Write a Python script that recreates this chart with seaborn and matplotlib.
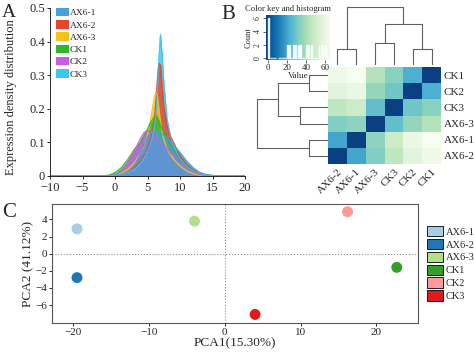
import numpy as np
import pandas as pd
import matplotlib
matplotlib.use("Agg")
import matplotlib.pyplot as plt
from matplotlib.patches import Patch
import seaborn as sns

sns.set_style("ticks")
plt.rcParams['font.family'] = ['Liberation Serif', 'DejaVu Serif']

# ---------------- data ----------------
samples = ["AX6-1", "AX6-2", "AX6-3", "CK1", "CK2", "CK3"]
dens_colors = ["#4a9fd8", "#e8452a", "#f5c318", "#2db82d", "#cc5ae8", "#3cc6f0"]

dens_x = [-10, -3, -2, -1, 0, 1, 2, 3, 4, 4.5, 5, 5.5, 6, 6.25, 6.5, 6.75, 7, 7.25,
          7.5, 8, 8.5, 9, 10, 11, 12, 13, 14, 15, 16, 17, 20]
dens_ax61 = [0, 0, 0, 0, 0.002, 0.005, 0.012, 0.03, 0.07, 0.095, 0.115, 0.128, 0.133, 0.134, 0.133,
             0.131, 0.128, 0.125, 0.121, 0.112, 0.102, 0.092, 0.07, 0.045, 0.025, 0.011, 0.004, 0.001, 0, 0, 0]
dens_ax62 = [0, 0, 0, 0, 0.002, 0.005, 0.012, 0.025, 0.045, 0.06, 0.08, 0.11, 0.16, 0.21, 0.28,
             0.335, 0.33, 0.27, 0.21, 0.15, 0.12, 0.1, 0.06, 0.035, 0.018, 0.008, 0.003, 0.001, 0, 0, 0]
dens_ax63 = [0, 0, 0, 0, 0.003, 0.008, 0.02, 0.04, 0.07, 0.09, 0.12, 0.17, 0.23, 0.25, 0.24,
             0.2, 0.16, 0.13, 0.11, 0.08, 0.065, 0.05, 0.03, 0.015, 0.007, 0.003, 0.001, 0, 0, 0, 0]
dens_ck1 = [0, 0, 0, 0.002, 0.01, 0.025, 0.05, 0.08, 0.1, 0.12, 0.14, 0.16, 0.175, 0.18, 0.175,
            0.165, 0.15, 0.14, 0.13, 0.11, 0.095, 0.08, 0.05, 0.03, 0.015, 0.007, 0.003, 0.001, 0, 0, 0]
dens_ck2 = [0, 0, 0, 0, 0.003, 0.015, 0.04, 0.075, 0.115, 0.13, 0.135, 0.13, 0.12, 0.115, 0.11,
            0.105, 0.1, 0.095, 0.09, 0.08, 0.07, 0.06, 0.04, 0.025, 0.012, 0.005, 0.002, 0, 0, 0, 0]
dens_ck3 = [0, 0, 0, 0, 0.002, 0.005, 0.01, 0.02, 0.04, 0.055, 0.075, 0.1, 0.14, 0.18, 0.25,
            0.34, 0.42, 0.36, 0.28, 0.17, 0.12, 0.09, 0.05, 0.03, 0.015, 0.007, 0.003, 0.001, 0, 0, 0]

# heatmap (leaf order along columns)
leaf_order = ["AX6-2", "AX6-1", "AX6-3", "CK3", "CK2", "CK1"]
dist = [[0, 20, 31, 42, 53, 57],
        [20, 0, 33, 45, 56, 60],
        [31, 33, 0, 26, 34, 40],
        [42, 45, 26, 0, 28, 32],
        [53, 56, 34, 28, 0, 22],
        [57, 60, 40, 32, 22, 0]]
# linkage rows: [cluster a, cluster b, height]; leaves 0-5 in leaf_order
linkage = [[0, 1, 0.27], [2, 3, 0.39], [4, 5, 0.27], [7, 8, 0.71], [6, 9, 1.0]]

# PCA
pca_x = [-19.5, -19.5, -4.0, 22.7, 16.2, 4.0]
pca_y = [2.9, -2.8, 3.8, -1.6, 4.9, -7.1]
pca_colors = ["#a6cee3", "#1f78b4", "#b2df8a", "#33a02c", "#fb9a99", "#e31a1c"]

W, H = 474, 355
fig = plt.figure(figsize=(W / 100, H / 100), dpi=100)

def box(x0, y0, x1, y1):
    return [x0 / W, 1 - y1 / H, (x1 - x0) / W, (y1 - y0) / H]

# ---------------- panel A ----------------
axA = fig.add_axes(box(50, 8, 245, 176))
series = {"AX6-1": dens_ax61, "AX6-2": dens_ax62, "AX6-3": dens_ax63,
          "CK1": dens_ck1, "CK2": dens_ck2, "CK3": dens_ck3}
col = dict(zip(samples, dens_colors))
draw_order = ["CK3", "AX6-2", "AX6-3", "CK1", "CK2", "AX6-1"]
for s in draw_order:
    axA.fill_between(dens_x, series[s], 0, color=col[s], alpha=0.8, lw=0)
for s in draw_order:
    sns.lineplot(x=dens_x, y=series[s], ax=axA, color=col[s], lw=1.0, alpha=0.9)
sns.lineplot(x=dens_x, y=dens_ck3, ax=axA, color="#3cc6f0", lw=0.8, alpha=0.6)
axA.set_xlim(-10, 20)
axA.set_ylim(0, 0.5)
axA.set_xticks([-10, -5, 0, 5, 10, 15, 20])
axA.set_yticks([0, 0.1, 0.2, 0.3, 0.4, 0.5])
axA.set_yticklabels(["0", "0.1", "0.2", "0.3", "0.4", "0.5"])
axA.tick_params(labelsize=9, length=2.5, width=0.7, pad=1)
axA.tick_params(axis="x", pad=2)
axA.set_ylabel("Expression density distribution", fontsize=9.0, labelpad=2)
axA.yaxis.set_label_coords(-0.17, 0.47)
sns.despine(ax=axA)
for sp in ["left", "bottom"]:
    axA.spines[sp].set_linewidth(0.7)
handles = [Patch(facecolor=c, edgecolor="none") for c in dens_colors]
axA.legend(handles, samples, loc="upper left", bbox_to_anchor=(0.0, 1.035), frameon=False,
           fontsize=6.8, handlelength=1.4, handleheight=1.0, labelspacing=0.3,
           handletextpad=0.1, borderaxespad=0.2)
fig.text(2 / W, 1 - 17 / H, "A", fontsize=14)

# ---------------- panel B ----------------
def dendro_coords(Z, n):
    pos = {i: i + 0.5 for i in range(n)}
    hgt = {i: 0.0 for i in range(n)}
    segs = []
    for k, (a, b, h) in enumerate(Z):
        a, b = int(a), int(b)
        segs.append(([pos[a], pos[a], pos[b], pos[b]], [hgt[a], h, h, hgt[b]]))
        pos[n + k] = (pos[a] + pos[b]) / 2
        hgt[n + k] = h
    return segs

segs = dendro_coords(linkage, len(leaf_order))

axT = fig.add_axes(box(328, 5, 441, 65))
for xs, ys in segs:
    axT.plot(xs, ys, color="#606060", lw=0.8)
axT.set_xlim(0, 6)
axT.set_ylim(0, 1.04)
axT.axis("off")

axL = fig.add_axes(box(255, 67, 328, 164))
for xs, ys in segs:
    axL.plot(ys, xs, color="#606060", lw=0.8)
axL.set_ylim(0, 6)
axL.set_xlim(1.03, 0)
axL.axis("off")

axH = fig.add_axes(box(328, 67, 441, 164))
df = pd.DataFrame(dist, index=leaf_order, columns=leaf_order)
df = df.iloc[::-1]
sns.heatmap(df, cmap="GnBu_r", vmin=0, vmax=60, cbar=False, ax=axH,
            xticklabels=True, yticklabels=True)
axH.yaxis.tick_right()
axH.tick_params(length=0, labelsize=8, pad=2)
axH.set_yticklabels(df.index, rotation=0)
axH.set_xticklabels(df.columns, rotation=45, ha="right", rotation_mode="anchor")
axH.set_xlabel("")
axH.set_ylabel("")

# colour key
axK = fig.add_axes(box(266, 15, 330, 60))
grad = np.linspace(0, 60, 256)[None, :]
axK.imshow(grad, cmap="GnBu_r", aspect="auto", extent=[-2, 65, -0.3, 6.5], origin="lower")
vals = np.array(dist)[np.triu_indices(6)]
vals = np.concatenate([vals, np.array(dist)[np.triu_indices(6, 1)]])
counts, edges = np.histogram(vals, bins=np.arange(0, 63, 1))
axK.bar(edges[:-1] + 0.5, counts, width=0.9, color="#3de8e8", alpha=0.9)
axK.set_xlim(-2, 65)
axK.set_ylim(-0.3, 6.5)
axK.set_xticks([0, 20, 40, 60])
axK.set_yticks([0, 2, 4, 6])
axK.set_yticklabels(["0", "2", "4", "6"], rotation=90, va="center")
axK.tick_params(labelsize=6.5, length=2, width=0.5, pad=1)
axK.tick_params(axis="y", labelsize=5.5)
for sp in axK.spines.values():
    sp.set_visible(False)
axK.set_xlabel("Value", fontsize=6.5, labelpad=0)
axK.set_ylabel("Count", fontsize=6, labelpad=1)
fig.text(245 / W, 1 - 11 / H, "Color key and histogram", fontsize=6.2)
fig.text(221 / W, 1 - 19 / H, "B", fontsize=15)

# ---------------- panel C ----------------
axC = fig.add_axes(box(52, 204, 418, 323))
pdf = pd.DataFrame({"PC1": pca_x, "PC2": pca_y, "sample": samples})
sns.scatterplot(data=pdf, x="PC1", y="PC2", hue="sample", palette=pca_colors,
                s=62, edgecolor="none", ax=axC, legend=False, zorder=3)
axC.axhline(0, ls=":", color="#888888", lw=0.8, zorder=1)
axC.axvline(0, ls=":", color="#888888", lw=0.8, zorder=1)
axC.set_xlim(-22.8, 25.5)
axC.set_ylim(-8.1, 5.8)
axC.set_xticks([-20, -10, 0, 10, 20])
axC.set_yticks([4, 2, 0, -2, -4, -6])
axC.tick_params(labelsize=8, length=2.5, width=0.7, pad=1)
for sp in axC.spines.values():
    sp.set_color("#555555")
    sp.set_linewidth(0.8)
axC.set_xlabel("PCA1(15.30%)", fontsize=9.5, labelpad=0)
axC.set_ylabel("PCA2 (41.12%)", fontsize=9.5, labelpad=1)
hC = [Patch(facecolor=c, edgecolor="black", linewidth=0.6) for c in pca_colors]
axC.legend(hC, samples, loc="center left", bbox_to_anchor=(1.0, 0.5), frameon=False,
           fontsize=7.5, handlelength=1.5, handleheight=1.2, labelspacing=0.2,
           handletextpad=0.3, borderaxespad=0.5)
fig.text(2 / W, 1 - 217 / H, "C", fontsize=15)

fig.savefig("out.png", dpi=100)
